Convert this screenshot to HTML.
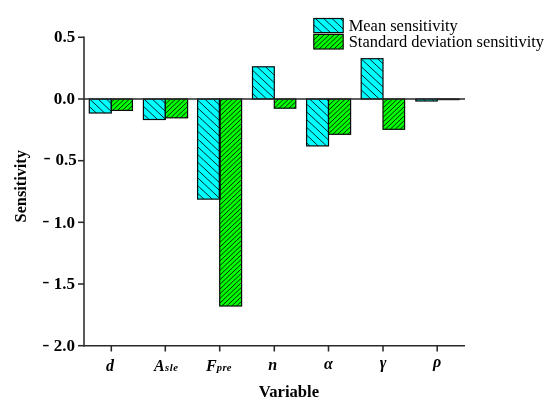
<!DOCTYPE html>
<html><head><meta charset="utf-8"><title>Sensitivity chart</title>
<style>
html,body{margin:0;padding:0;background:#fff;}
body{width:550px;height:410px;overflow:hidden;}
svg{display:block;}
text{font-family:"Liberation Serif",serif;fill:#000;}
.b{font-weight:bold;}
.bi{font-weight:bold;font-style:italic;}
</style></head><body>
<svg width="550" height="410" viewBox="0 0 550 410">
<rect width="550" height="410" fill="#fff"/>

<rect x="89.3" y="99.0" width="22.0" height="14.0" fill="#00ffff"/>
<path d="M106.3,99.0L111.3,103.7M98.0,99.0L111.3,111.5M89.7,99.0L104.6,113.0M89.3,106.4L96.3,113.0" stroke="#001c1c" stroke-width="0.95" fill="none"/>
<rect x="89.3" y="99.0" width="22.0" height="14.0" fill="none" stroke="#0a0a0a" stroke-width="1.2"/>
<rect x="111.3" y="99.0" width="21.1" height="11.4" fill="#00ff00"/>
<path d="M111.3,102.3L114.7,99.0M111.3,106.9L119.7,99.0M112.6,110.4L124.6,99.0M117.5,110.4L129.5,99.0M122.4,110.4L132.4,100.9M127.4,110.4L132.4,105.6" stroke="#001c00" stroke-width="0.95" fill="none"/>
<rect x="111.3" y="99.0" width="21.1" height="11.4" fill="none" stroke="#0a0a0a" stroke-width="1.2"/>
<rect x="143.4" y="99.0" width="21.9" height="20.5" fill="#00ffff"/>
<path d="M160.5,99.0L165.3,103.5M152.2,99.0L165.3,111.3M143.9,99.0L165.3,119.1M143.4,106.3L157.5,119.5M143.4,114.1L149.2,119.5" stroke="#001c1c" stroke-width="0.95" fill="none"/>
<rect x="143.4" y="99.0" width="21.9" height="20.5" fill="none" stroke="#0a0a0a" stroke-width="1.2"/>
<rect x="165.3" y="99.0" width="22.3" height="18.8" fill="#00ff00"/>
<path d="M165.3,99.5L165.8,99.0M165.3,104.2L170.8,99.0M165.3,108.9L175.7,99.0M165.3,113.6L180.6,99.0M165.8,117.8L185.5,99.0M170.7,117.8L187.6,101.7M175.6,117.8L187.6,106.4M180.5,117.8L187.6,111.1M185.5,117.8L187.6,115.8" stroke="#001c00" stroke-width="0.95" fill="none"/>
<rect x="165.3" y="99.0" width="22.3" height="18.8" fill="none" stroke="#0a0a0a" stroke-width="1.2"/>
<rect x="197.6" y="99.0" width="22.1" height="100.1" fill="#00ffff"/>
<path d="M213.0,99.0L219.7,105.2M204.7,99.0L219.7,113.0M197.6,100.1L219.7,120.8M197.6,107.9L219.7,128.5M197.6,115.6L219.7,136.3M197.6,123.4L219.7,144.1M197.6,131.1L219.7,151.8M197.6,138.9L219.7,159.6M197.6,146.7L219.7,167.3M197.6,154.4L219.7,175.1M197.6,162.2L219.7,182.8M197.6,169.9L219.7,190.6M197.6,177.7L219.7,198.4M197.6,185.5L212.2,199.1M197.6,193.2L203.9,199.1" stroke="#001c1c" stroke-width="0.95" fill="none"/>
<rect x="197.6" y="99.0" width="22.1" height="100.1" fill="none" stroke="#0a0a0a" stroke-width="1.2"/>
<rect x="219.7" y="99.0" width="21.9" height="207.0" fill="#00ff00"/>
<path d="M219.7,102.1L223.0,99.0M219.7,106.8L227.9,99.0M219.7,111.5L232.8,99.0M219.7,116.1L237.7,99.0M219.7,120.8L241.6,100.0M219.7,125.5L241.6,104.7M219.7,130.2L241.6,109.4M219.7,134.9L241.6,114.1M219.7,139.5L241.6,118.7M219.7,144.2L241.6,123.4M219.7,148.9L241.6,128.1M219.7,153.6L241.6,132.8M219.7,158.3L241.6,137.5M219.7,162.9L241.6,142.1M219.7,167.6L241.6,146.8M219.7,172.3L241.6,151.5M219.7,177.0L241.6,156.2M219.7,181.7L241.6,160.9M219.7,186.3L241.6,165.5M219.7,191.0L241.6,170.2M219.7,195.7L241.6,174.9M219.7,200.4L241.6,179.6M219.7,205.1L241.6,184.3M219.7,209.7L241.6,188.9M219.7,214.4L241.6,193.6M219.7,219.1L241.6,198.3M219.7,223.8L241.6,203.0M219.7,228.5L241.6,207.7M219.7,233.1L241.6,212.3M219.7,237.8L241.6,217.0M219.7,242.5L241.6,221.7M219.7,247.2L241.6,226.4M219.7,251.9L241.6,231.1M219.7,256.5L241.6,235.7M219.7,261.2L241.6,240.4M219.7,265.9L241.6,245.1M219.7,270.6L241.6,249.8M219.7,275.3L241.6,254.5M219.7,279.9L241.6,259.1M219.7,284.6L241.6,263.8M219.7,289.3L241.6,268.5M219.7,294.0L241.6,273.2M219.7,298.7L241.6,277.9M219.7,303.3L241.6,282.5M221.8,306.0L241.6,287.2M226.8,306.0L241.6,291.9M231.7,306.0L241.6,296.6M236.6,306.0L241.6,301.3" stroke="#001c00" stroke-width="0.95" fill="none"/>
<rect x="219.7" y="99.0" width="21.9" height="207.0" fill="none" stroke="#0a0a0a" stroke-width="1.2"/>
<rect x="252.5" y="66.8" width="21.8" height="32.2" fill="#00ffff"/>
<path d="M273.8,66.8L274.3,67.3M265.5,66.8L274.3,75.1M257.2,66.8L274.3,82.8M252.5,70.2L274.3,90.6M252.5,78.0L274.3,98.3M252.5,85.7L266.7,99.0M252.5,93.5L258.4,99.0" stroke="#001c1c" stroke-width="0.95" fill="none"/>
<rect x="252.5" y="66.8" width="21.8" height="32.2" fill="none" stroke="#0a0a0a" stroke-width="1.2"/>
<rect x="274.3" y="99.0" width="21.5" height="9.2" fill="#00ff00"/>
<path d="M274.3,103.4L278.9,99.0M274.3,108.1L283.8,99.0M279.1,108.2L288.8,99.0M284.0,108.2L293.7,99.0M288.9,108.2L295.8,101.7M293.9,108.2L295.8,106.4" stroke="#001c00" stroke-width="0.95" fill="none"/>
<rect x="274.3" y="99.0" width="21.5" height="9.2" fill="none" stroke="#0a0a0a" stroke-width="1.2"/>
<rect x="306.6" y="99.0" width="21.9" height="46.9" fill="#00ffff"/>
<path d="M326.2,99.0L328.5,101.2M317.9,99.0L328.5,109.0M309.6,99.0L328.5,116.7M306.6,104.0L328.5,124.5M306.6,111.8L328.5,132.2M306.6,119.5L328.5,140.0M306.6,127.3L326.5,145.9M306.6,135.0L318.2,145.9M306.6,142.8L309.9,145.9" stroke="#001c1c" stroke-width="0.95" fill="none"/>
<rect x="306.6" y="99.0" width="21.9" height="46.9" fill="none" stroke="#0a0a0a" stroke-width="1.2"/>
<rect x="328.5" y="99.0" width="22.1" height="35.3" fill="#00ff00"/>
<path d="M328.5,100.9L330.5,99.0M328.5,105.6L335.4,99.0M328.5,110.3L340.4,99.0M328.5,114.9L345.3,99.0M328.5,119.6L350.2,99.0M328.5,124.3L350.6,103.3M328.5,129.0L350.6,108.0M328.5,133.7L350.6,112.7M332.8,134.3L350.6,117.4M337.7,134.3L350.6,122.0M342.6,134.3L350.6,126.7M347.5,134.3L350.6,131.4" stroke="#001c00" stroke-width="0.95" fill="none"/>
<rect x="328.5" y="99.0" width="22.1" height="35.3" fill="none" stroke="#0a0a0a" stroke-width="1.2"/>
<rect x="361.2" y="58.7" width="21.8" height="40.3" fill="#00ffff"/>
<path d="M377.6,58.7L383.0,63.7M369.3,58.7L383.0,71.5M361.2,58.8L383.0,79.2M361.2,66.6L383.0,87.0M361.2,74.4L383.0,94.7M361.2,82.1L379.3,99.0M361.2,89.9L371.0,99.0M361.2,97.6L362.7,99.0" stroke="#001c1c" stroke-width="0.95" fill="none"/>
<rect x="361.2" y="58.7" width="21.8" height="40.3" fill="none" stroke="#0a0a0a" stroke-width="1.2"/>
<rect x="383.0" y="99.0" width="21.6" height="30.3" fill="#00ff00"/>
<path d="M383.0,103.4L387.6,99.0M383.0,108.1L392.5,99.0M383.0,112.7L397.5,99.0M383.0,117.4L402.4,99.0M383.0,122.1L404.6,101.6M383.0,126.8L404.6,106.3M385.3,129.3L404.6,110.9M390.2,129.3L404.6,115.6M395.1,129.3L404.6,120.3M400.1,129.3L404.6,125.0" stroke="#001c00" stroke-width="0.95" fill="none"/>
<rect x="383.0" y="99.0" width="21.6" height="30.3" fill="none" stroke="#0a0a0a" stroke-width="1.2"/>
<rect x="415.8" y="99.0" width="21.4" height="2.0" fill="#00ffff"/>
<path d="M431.6,99.0L433.7,101.0M423.3,99.0L425.4,101.0M415.8,99.7L417.1,101.0" stroke="#001c1c" stroke-width="0.95" fill="none"/>
<rect x="415.8" y="99.0" width="21.4" height="2.0" fill="none" stroke="#0a0a0a" stroke-width="1.2"/>
<rect x="437.2" y="99.0" width="21.8" height="0.6" fill="#00ff00"/>
<path d="M441.3,99.6L441.9,99.0M446.2,99.6L446.9,99.0M451.1,99.6L451.8,99.0M456.1,99.6L456.7,99.0" stroke="#001c00" stroke-width="0.95" fill="none"/>
<rect x="437.2" y="99.0" width="21.8" height="0.6" fill="none" stroke="#0a0a0a" stroke-width="1.2"/>
<path d="M219.7,99.0 V199.1" stroke="#0a0a0a" stroke-width="2" fill="none"/>
<g stroke="#2a2a2a" stroke-width="1.55" fill="none">
<path d="M84.0,36.6 V346.4"/>
<path d="M83.3,345.7 H465"/>
<path d="M78.0,99.0 H465"/>
<path d="M78.0,37.3 H84.0"/>
<path d="M78.0,160.7 H84.0"/>
<path d="M78.0,222.3 H84.0"/>
<path d="M78.0,284.0 H84.0"/>
<path d="M78.0,345.7 H84.0"/>
<path d="M111.3,345.7 V351.5"/>
<path d="M165.3,345.7 V351.5"/>
<path d="M219.7,345.7 V351.5"/>
<path d="M274.3,345.7 V351.5"/>
<path d="M328.5,345.7 V351.5"/>
<path d="M383.0,345.7 V351.5"/>
<path d="M437.2,345.7 V351.5"/>
</g>
<text class="b" x="75.2" y="42.2" font-size="17" text-anchor="end">0.5</text>
<text class="b" x="75.0" y="103.5" font-size="17" text-anchor="end">0.0</text>
<text class="b" x="76.8" y="164.8" font-size="17" text-anchor="end">0.5</text>
<text class="b" transform="translate(43.47,162.85) scale(1.28,1)" font-size="17">-</text>
<text class="b" x="75.0" y="228.3" font-size="17" text-anchor="end">1.0</text>
<text class="b" transform="translate(42.37,226.45) scale(1.28,1)" font-size="17">-</text>
<text class="b" x="75.0" y="289.0" font-size="17" text-anchor="end">1.5</text>
<text class="b" transform="translate(42.37,286.75) scale(1.28,1)" font-size="17">-</text>
<text class="b" x="75.0" y="351.2" font-size="17" text-anchor="end">2.0</text>
<text class="b" transform="translate(42.37,349.55) scale(1.28,1)" font-size="17">-</text>
<text class="bi" x="110.1" y="371" font-size="16" text-anchor="middle">d</text>
<text class="bi" x="166.3" y="371" font-size="16" text-anchor="middle">A<tspan font-size="10.6" letter-spacing="0.55" dx="0.3">sle</tspan></text>
<text class="bi" x="218.8" y="371" font-size="16" text-anchor="middle">F<tspan font-size="10.6" letter-spacing="0.25" dx="0.3">pre</tspan></text>
<text class="bi" x="272.8" y="369.5" font-size="16" text-anchor="middle">n</text>
<text class="bi" x="328.5" y="369.2" font-size="16" text-anchor="middle">α</text>
<text class="bi" x="383.0" y="368" font-size="16" text-anchor="middle">γ</text>
<text class="bi" x="437.2" y="367" font-size="16" text-anchor="middle">ρ</text>
<text class="b" x="288.9" y="396.8" font-size="16.65" text-anchor="middle">Variable</text>
<text class="b" transform="translate(25.5,186.3) rotate(-90)" font-size="16.25" text-anchor="middle">Sensitivity</text>
<rect x="313.8" y="18.5" width="29.4" height="14.1" fill="#00ffff"/>
<path d="M340.3,18.5L343.2,21.2M332.0,18.5L343.2,29.0M323.7,18.5L338.8,32.6M315.4,18.5L330.5,32.6M313.8,24.8L322.2,32.6" stroke="#001c1c" stroke-width="0.95" fill="none"/>
<rect x="313.8" y="18.5" width="29.4" height="14.1" fill="none" stroke="#0a0a0a" stroke-width="1.2"/>
<rect x="313.8" y="34.4" width="29.4" height="14.6" fill="#00ff00"/>
<path d="M313.8,35.3L314.8,34.4M313.8,40.0L319.7,34.4M313.8,44.7L324.6,34.4M314.2,49.0L329.6,34.4M319.1,49.0L334.5,34.4M324.0,49.0L339.4,34.4M329.0,49.0L343.2,35.5M333.9,49.0L343.2,40.2M338.8,49.0L343.2,44.8" stroke="#001c00" stroke-width="0.95" fill="none"/>
<rect x="313.8" y="34.4" width="29.4" height="14.6" fill="none" stroke="#0a0a0a" stroke-width="1.2"/>
<text x="348.7" y="30.7" font-size="16.45">Mean sensitivity</text>
<text x="348.7" y="47.0" font-size="16.45">Standard deviation sensitivity</text>
</svg></body></html>
